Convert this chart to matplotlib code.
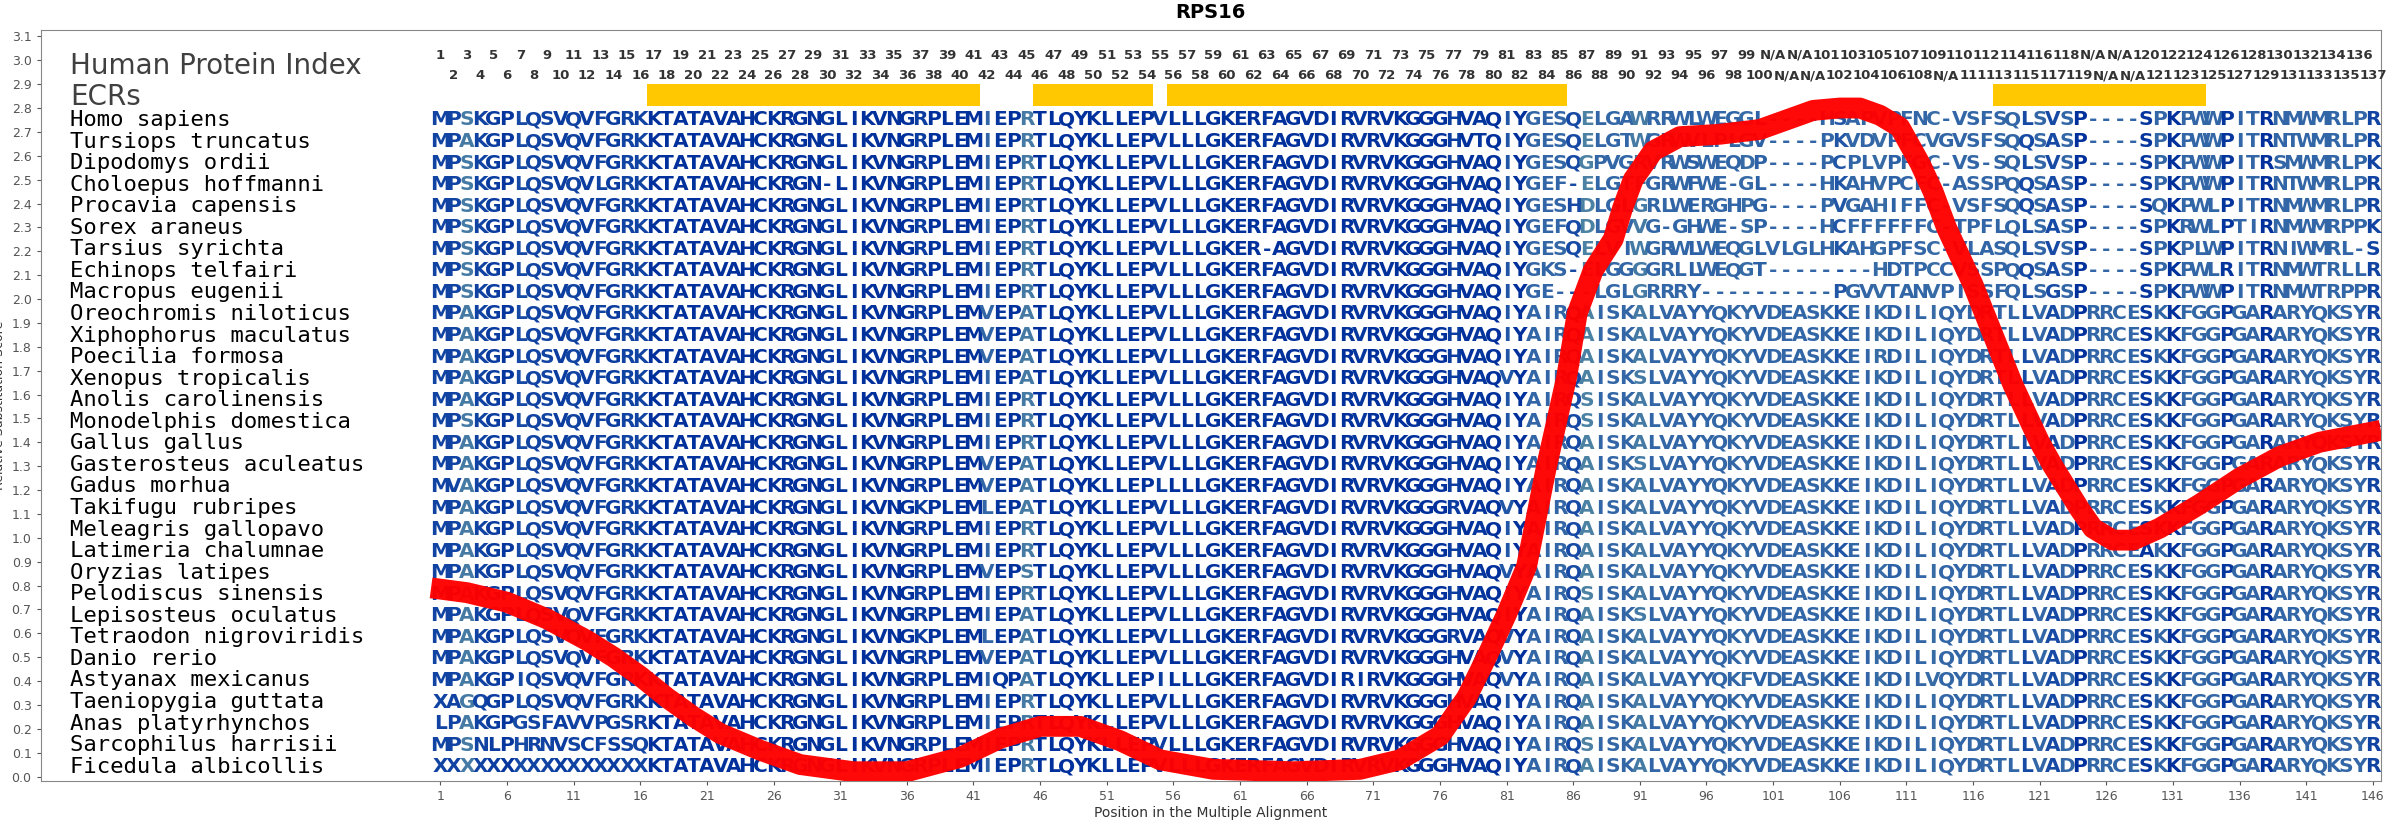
import matplotlib
matplotlib.use("Agg")
import matplotlib.pyplot as plt
from matplotlib.colors import LinearSegmentedColormap
from collections import Counter

species = ["Homo sapiens", "Tursiops truncatus", "Dipodomys ordii", "Choloepus hoffmanni",
           "Procavia capensis", "Sorex araneus", "Tarsius syrichta", "Echinops telfairi",
           "Macropus eugenii", "Oreochromis niloticus", "Xiphophorus maculatus", "Poecilia formosa",
           "Xenopus tropicalis", "Anolis carolinensis", "Monodelphis domestica", "Gallus gallus",
           "Gasterosteus aculeatus", "Gadus morhua", "Takifugu rubripes", "Meleagris gallopavo",
           "Latimeria chalumnae", "Oryzias latipes", "Pelodiscus sinensis", "Lepisosteus oculatus",
           "Tetraodon nigroviridis", "Danio rerio", "Astyanax mexicanus", "Taeniopygia guttata",
           "Anas platyrhynchos", "Sarcophilus harrisii", "Ficedula albicollis"]

# sequence fragments (alignment columns 1-40, 41-80, 81-146)
A_S = "MPSKGPLQSVQVFGRKKTATAVAHCKRGNGLIKVNGRPLE"
A_A = "MPAKGPLQSVQVFGRKKTATAVAHCKRGNGLIKVNGRPLE"
A_K = "MPAKGPLQSVQVFGRKKTATAVAHCKRGNGLIKVNGKPLE"
B_R = "MIEPRTLQYKLLEPVLLLGKERFAGVDIRVRVKGGGHVAQ"
B_VA = "MVEPATLQYKLLEPVLLLGKERFAGVDIRVRVKGGGHVAQ"
B_IA = "MIEPATLQYKLLEPVLLLGKERFAGVDIRVRVKGGGHVAQ"
C_F = "IYAIRQAISKALVAYYQKYVDEASKKEIKDILIQYDRTLLVADPRRCESKKFGGPGARARYQKSYR"
C_FS = "IYAIRQSISKALVAYYQKYVDEASKKEIKDILIQYDRTLLVADPRRCESKKFGGPGARARYQKSYR"
C_FK = "IYAIRQAISKSLVAYYQKYVDEASKKEIKDILIQYDRTLLVADPRRCESKKFGGPGARARYQKSYR"
C_FV = "VYAIRQAISKALVAYYQKYVDEASKKEIKDILIQYDRTLLVADPRRCESKKFGGPGARARYQKSYR"

sequences = [
    A_S + B_R + "IYGESQELGAWRRWLWEGGL----HSAPVPFNC-VSFSQLSVSP----SPKPWWPITRNMWMRLPR",
    A_A + "MIEPRTLQYKLLEPVLLLGKERFAGVDIRVRVKGGGHVTQ" + "IYGESQELGTWGRWVLPLGV----PKVDVPFCVGVSFSQQSASP----SPKPWWPITRNTWMRLPR",
    A_S + B_R + "IYGESQGPVGRVRWSWEQDP----PCPLVPFGC-VS-SQLSVSP----SPKPWWPITRSMWMRLPK",
    "MPSKGPLQSVQVLGRKKTATAVAHCKRGN-LIKVNGRPLE" + B_R + "IYGEF-ELGTFGRWFWE-GL----HKAHVPCFC-ASSPQQSASP----SPKPWWPITRNTWMRLPR",
    A_S + B_R + "IYGESHDLGLGRLWERGHPG----PVGAHIFFC-VSFSQQSASP----SQKPWLPITRNMWMRLPR",
    A_S + B_R + "IYGEFQDLGVVG-GHWE-SP----HCFFFFFFC-TPFLQLSASP----SPKRWLPTIRNMWMRPPK",
    A_S + "MIEPRTLQYKLLEPVLLLGKER-AGVDIRVRVKGGGHVAQ" + "IYGESQELVIWGRWLWEQGLVLGLHKAHGPFSC-VLASQLSVSP----SPKPLWPITRNIWMRL-S",
    A_S + B_R + "IYGKS-ELGGGGRLLWEQGT--------HDTPCCVSSPQQSASP----SPKPWLRITRNMWTRLLR",
    A_S + B_R + "IYGE---LGLGRRRY----------PGVVTANVPISSFQLSGSP----SPKPWWPITRNMWTRPPR",
    A_A + B_VA + C_F,
    A_A + B_VA + C_F,
    A_A + B_VA + "IYAIRQAISKALVAYYQKYVDEASKKEIRDILIQYDRTLLVADPRRCESKKFGGPGARARYQKSYR",
    A_A + B_IA + "VYAIRQAISKSLVAYYQKYVDEASKKEIKDILIQYDRTLLVADPRRCESKKFGGPGARARYQKSYR",
    A_A + B_R + C_FS,
    A_S + B_R + C_FS,
    A_A + B_R + C_F,
    A_A + B_VA + C_FK,
    "MVAKGPLQSVQVFGRKKTATAVAHCKRGNGLIKVNGRPLE" + "MVEPATLQYKLLEPLLLLGKERFAGVDIRVRVKGGGHVAQ" + C_F,
    A_K + "MLEPATLQYKLLEPVLLLGKERFAGVDIRVRVKGGGRVAQ" + C_FV,
    A_A + B_R + C_F,
    A_A + B_R + "IYAIRQAISKALVAYYQKYVDEASKKEIKDILIQYDRTLLVADPRRCEAKKFGGPGARARYQKSYR",
    A_A + "MVEPSTLQYKLLEPVLLLGKERFAGVDIRVRVKGGGHVAQ" + C_FV,
    A_A + B_R + C_FS,
    A_A + B_IA + C_FK,
    A_K + "MLEPATLQYKLLEPVLLLGKERFAGVDIRVRVKGGGRVAQ" + C_FV,
    A_A + B_VA + C_FV,
    "MPAKGPIQSVQVFGRKKTATAVAHCKRGNGLIKVNGRPLE" + "MIQPATLQYKLLEPILLLGKERFAGVDIRIRVKGGGHVAQ" +
    "VYAIRQAISKALVAYYQKFVDEASKKEIKDILVQYDRTLLVADPRRCESKKFGGPGARARYQKSYR",
    "XAGQGPLQSVQVFGRKKTATAVAHCKRGNGLIKVNGRPLE" + B_R + C_F,
    "LPAKGPGSFAVVPGSRKTATAVAHCKRGNGLIKVNGRPLE" + B_R + C_F,
    "MPSNLPHRNVSCFSSQKTATAVAHCKRGNGLIKVNGRPLE" + B_R + C_FS,
    "XXXXXXXXXXXXXXXXKTATAVAHCKRGNGLIKVNGRPLE" + B_R + C_F,
]

ecr_start = [16.5, 45.5, 55.5, 117.5]
ecr_end = [41.5, 54.5, 85.5, 133.5]

curve_x = [0.3, 3, 6, 9, 12, 14, 16, 18, 20, 22, 25, 28, 32, 36, 40, 43, 46, 49, 52, 55, 59, 65, 70,
           73, 76, 78, 79.5, 81, 82.5, 84, 85.5, 86.3, 87.5, 89, 89.7, 90.5, 92, 94, 97, 100, 102,
           104, 106, 107.5, 109, 110.5, 112, 113, 114, 115, 116, 117, 118, 119, 120, 121, 122, 123,
           124, 125, 126.5, 128, 130, 133, 136, 139, 142, 146.6]
curve_y = [0.79, 0.77, 0.73, 0.66, 0.57, 0.50, 0.42, 0.33, 0.25, 0.18, 0.11, 0.05, 0.02, 0.02, 0.08,
           0.16, 0.21, 0.21, 0.15, 0.07, 0.03, 0.02, 0.03, 0.07, 0.17, 0.33, 0.50, 0.68, 0.88, 1.30,
           1.67, 1.94, 2.12, 2.25, 2.38, 2.50, 2.62, 2.68, 2.69, 2.71, 2.75, 2.79, 2.80, 2.80, 2.77,
           2.72, 2.57, 2.45, 2.30, 2.18, 2.06, 1.92, 1.78, 1.64, 1.52, 1.40, 1.30, 1.21, 1.12, 1.04,
           0.99, 0.99, 1.04, 1.14, 1.25, 1.34, 1.40, 1.45]

xticks = list(range(1, 147, 5))

# ---------------------------------------------------------------
fig = plt.figure(figsize=(23.88, 8.25), dpi=100)
ax = fig.add_axes([0.017, 0.053, 0.980, 0.911])
ax.set_xlim(-29, 146.6)
ax.set_ylim(-0.02, 3.128)

row_y = [2.75 - 0.0903 * i for i in range(len(species))]
ncol = len(sequences[0])

cmap = LinearSegmentedColormap.from_list("cons", ["#00309c", "#1d52a6", "#3a6ea6", "#5e98a0", "#92c89a"])
col_colors = []
for c in range(ncol):
    column = [s[c] for s in sequences]
    f = Counter(column).most_common(1)[0][1] / len(column)
    t = min(1.0, (1 - f) / 0.68)
    col_colors.append(cmap(t))

seqfont = dict(family=["Liberation Sans Narrow", "DejaVu Sans"], weight="bold", fontsize=14.5)
for name, seq, y in zip(species, sequences, row_y):
    ax.text(-26.8, y, name, family="DejaVu Sans Mono", fontsize=16, va="center", ha="left", color="black")
    for c, ch in enumerate(seq):
        ax.text(c + 1, y, ch, ha="center", va="center", color=col_colors[c], **seqfont)

# header: human protein index
human = sequences[0]
labels = []
k = 0
for ch in human:
    if ch == "-":
        labels.append("N/A")
    else:
        k += 1
        labels.append(str(k))
for c, lab in enumerate(labels):
    y = 3.02 if (c % 2 == 0) else 2.935
    ax.text(c + 1, y, lab, ha="center", va="center", color="#333333",
            family=["Liberation Sans Narrow", "DejaVu Sans"], weight="bold", fontsize=9.5)

ax.text(-26.8, 2.975, "Human Protein Index", ha="left", va="center", color="#404040",
        family=["Liberation Sans Narrow", "DejaVu Sans"], fontsize=20)
ax.text(-26.8, 2.845, "ECRs", ha="left", va="center", color="#404040",
        family=["Liberation Sans Narrow", "DejaVu Sans"], fontsize=20)

for s, e in zip(ecr_start, ecr_end):
    ax.broken_barh([(s, e - s)], (2.81, 0.09), facecolor="#FFC800", edgecolor="none")

ax.plot(curve_x, curve_y, color="#ff0000", lw=15, solid_capstyle="butt", solid_joinstyle="round",
        zorder=5, alpha=0.97)

ax.set_xticks(xticks)
ax.set_yticks([i / 10 for i in range(32)])
ax.set_yticklabels([f"{i/10:.1f}" for i in range(32)])
ax.tick_params(labelsize=9, colors="#555555", length=3)
for sp in ax.spines.values():
    sp.set_color("#888888")
ax.set_xlabel("Position in the Multiple Alignment", fontsize=10, color="#333333", labelpad=2)
ax.set_ylabel("Relative Substitution Score", fontsize=9, color="#333333", labelpad=4)
fig.text(0.507, 0.985, "RPS16", ha="center", va="center", fontsize=14, weight="bold")

fig.savefig("out.png", dpi=100)
